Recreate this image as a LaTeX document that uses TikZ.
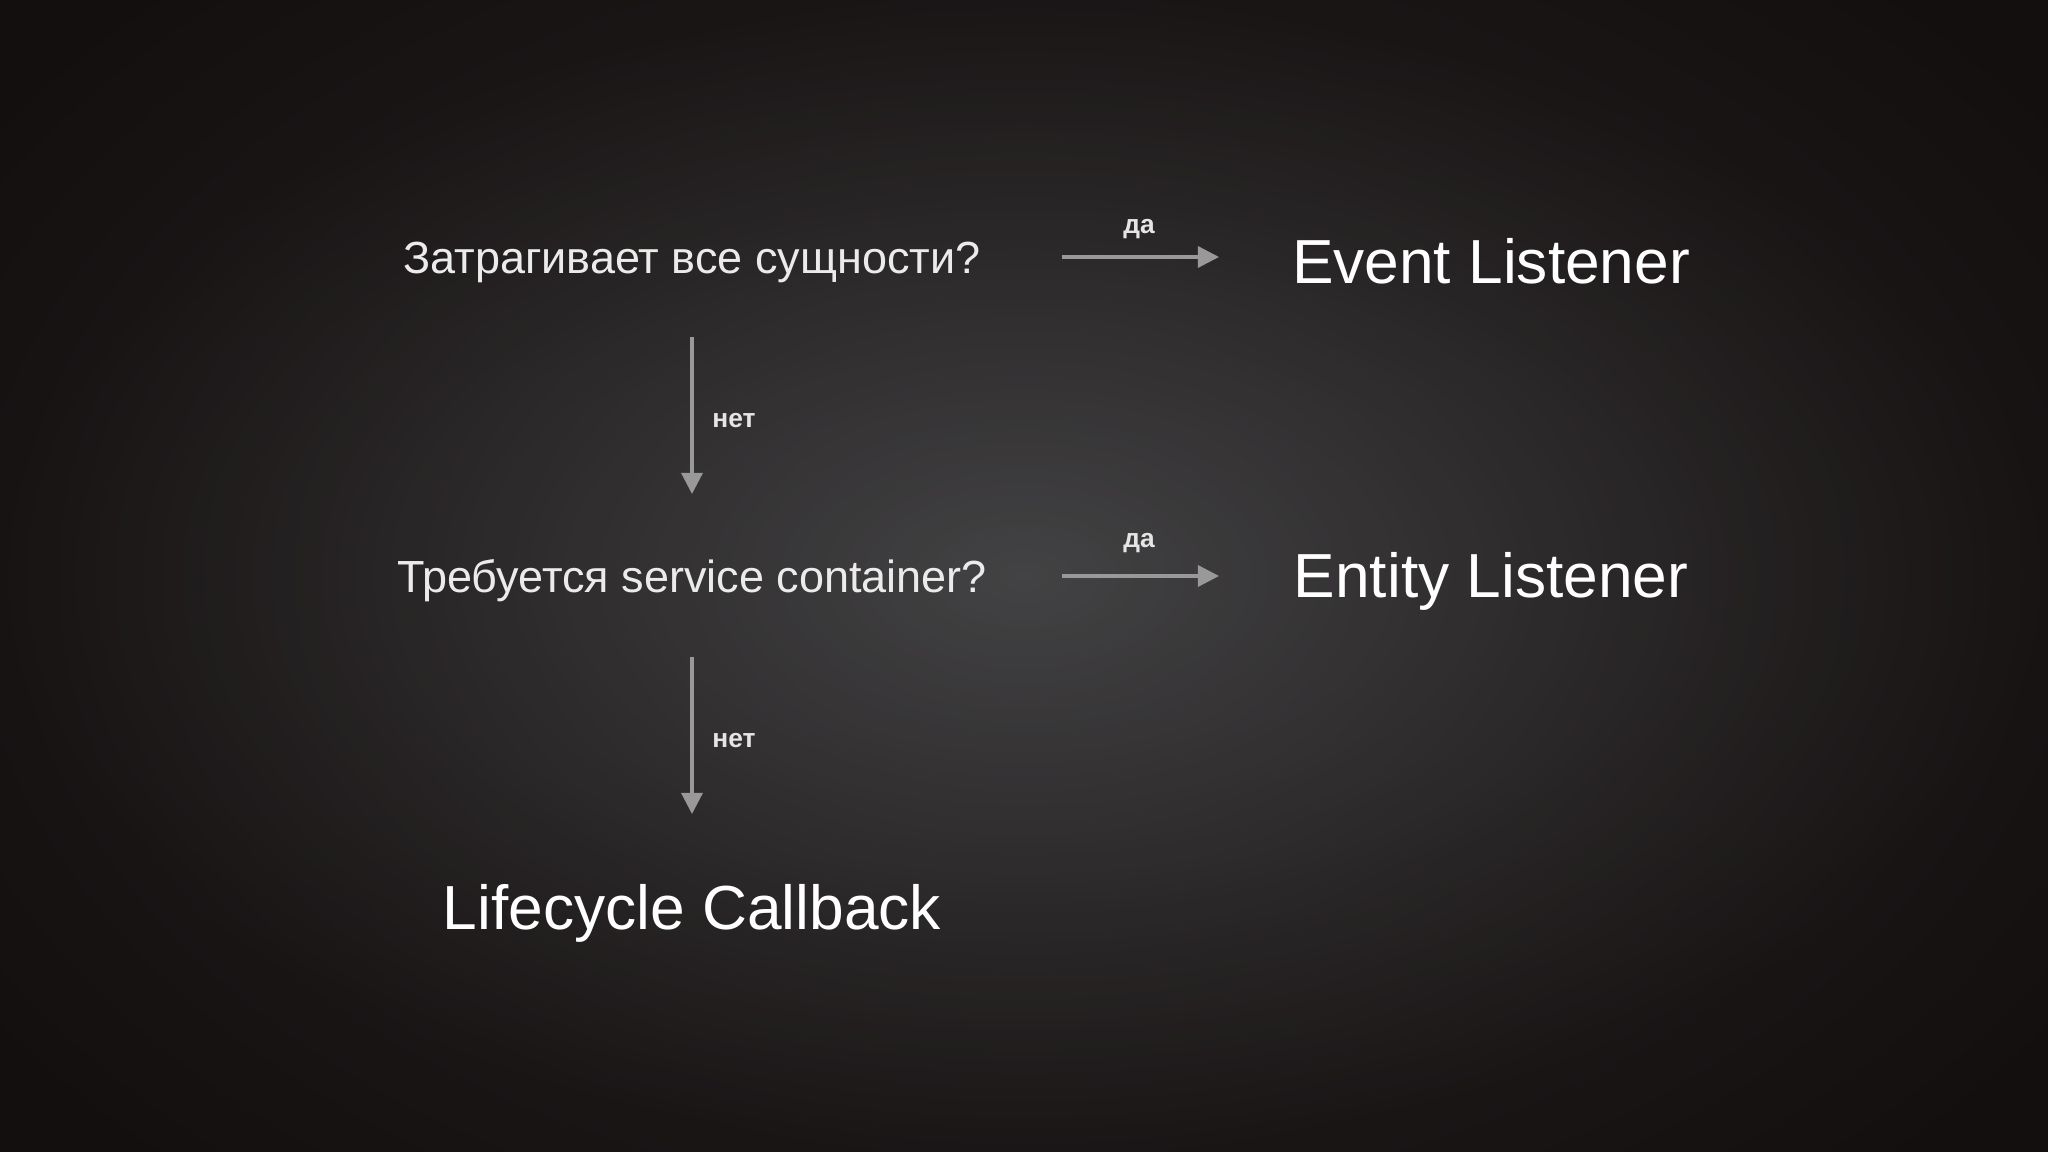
\documentclass[tikz,border=0pt]{standalone}
\usepackage{fontspec}
\setmainfont{Liberation Sans}
\usetikzlibrary{arrows.meta}
\begin{document}
\begin{tikzpicture}[x=0.01cm,y=-0.01cm,
  q/.style={text=white!92!black,font=\fontsize{12.8}{14}\selectfont},
  ans/.style={text=white,font=\fontsize{17.7}{20}\selectfont},
  lbl/.style={text=white!90!black,font=\bfseries\fontsize{7.5}{9}\selectfont},
  arr/.style={draw=gray!80!white,line width=0.9pt,-{Triangle[width=6pt,length=6pt]}}]
\definecolor{bgc}{HTML}{4A4A4C}
\definecolor{bge}{HTML}{140F0F}
\useasboundingbox (0,0) rectangle (2048,1152);
\shade[inner color=bgc,outer color=bge] (-300,-300) rectangle (2348,1452);
\fill[bge,opacity=0.25] (0,0) rectangle (2048,1152);
\shade[inner color=bgc,outer color=bge,opacity=0.5] (0,0) rectangle (2048,1152);
\node[q] (q1) at (692,262) {Затрагивает все сущности?};
\node[ans] (a1) at (1491,261) {Event Listener};
\node[q] (q2) at (692,581) {Требуется service container?};
\node[ans] (a2) at (1491,581) {Entity Listener};
\node[ans] (a3) at (692,913) {Lifecycle Callback};
\coordinate (h1s) at (1062,257); \coordinate (h1e) at (1219,257);
\coordinate (h2s) at (1062,576); \coordinate (h2e) at (1219,576);
\coordinate (v1s) at (692,337); \coordinate (v1e) at (692,494);
\coordinate (v2s) at (692,657); \coordinate (v2e) at (692,814);
\draw[arr] (h1s) -- (h1e);
\draw[arr] (h2s) -- (h2e);
\draw[arr] (v1s) -- (v1e);
\draw[arr] (v2s) -- (v2e);
\node[lbl] (l1) at (1139,229) {да};
\node[lbl] (l2) at (1139,543) {да};
\node[lbl] (l3) at (734,421) {нет};
\node[lbl] (l4) at (734,741) {нет};
\end{tikzpicture}
\end{document}
